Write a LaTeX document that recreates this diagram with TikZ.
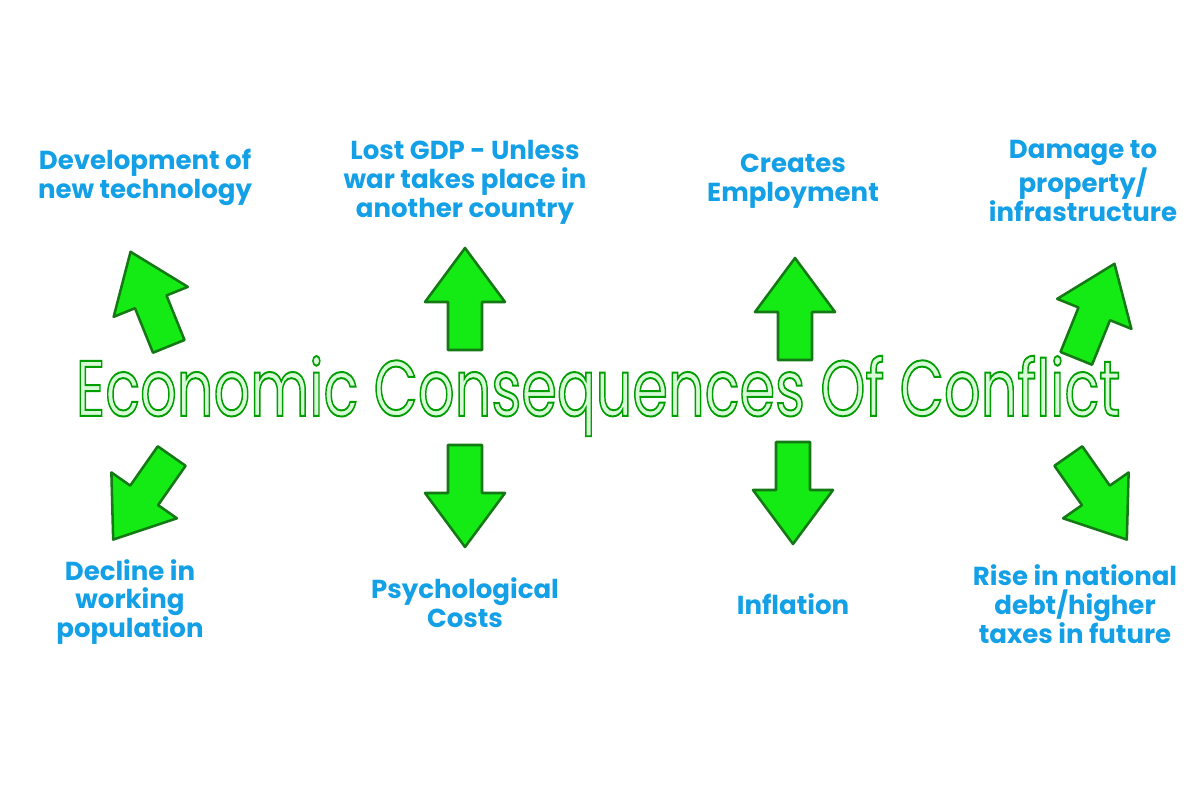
\documentclass[tikz,border=0pt]{standalone}
\usepackage{fontspec}
\setmainfont{Poppins}
\usepackage{graphicx}
\definecolor{lbl}{RGB}{20,160,230}
\definecolor{agreen}{RGB}{20,235,20}
\definecolor{dgreen}{RGB}{20,120,20}
\definecolor{pgreen}{RGB}{215,250,215}
\tikzset{
  lab/.style={text=lbl,font=\fontsize{18.5}{20.5}\selectfont\bfseries,align=center,inner sep=0},
  barrow/.style={fill=agreen,draw=dgreen,line width=1.8pt,line join=round},
}
\newcommand{\blockarrow}[3]{% center x,y, rotation (0 = up)
  \draw[barrow,shift={(#1,#2)},rotate=#3] (-17,50) -- (-17,2) -- (-40,2) -- (0,-52) -- (40,2) -- (17,2) -- (17,50) -- cycle;}
\begin{document}
\begin{tikzpicture}[x=0.025cm,y=-0.025cm]
\useasboundingbox (0,0) rectangle (1200,800);
\fill[white] (0,0) rectangle (1200,800);
\blockarrow{150}{300}{22}
\blockarrow{465}{300}{0}
\blockarrow{795}{310}{0}
\blockarrow{1095}{312}{-22}
\blockarrow{143}{497}{145}
\blockarrow{465}{495}{180}
\blockarrow{793}{492}{180}
\blockarrow{1097}{497}{-145}
\node[inner sep=0] (title) at (598,396) {\resizebox{26.1cm}{1.5cm}{\color{pgreen}\special{pdf:literal 0 0.62 0 RG 0.25 w 2 Tr}Economic Consequences Of Conflict\special{pdf:literal 0 Tr}}};
\node[lab] (t1) at (145,177) {Development of\\new technology};
\node[lab] (t2) at (465,182) {Lost GDP - Unless\\war takes place in\\another country};
\node[lab] (t3) at (793,181) {Creates\\Employment};
\node[lab] (t4) at (1083,181) {Damage to\\property/\\infrastructure};
\node[lab] (b1) at (130,602) {Decline in\\working\\population};
\node[lab] (b2) at (465,603) {Psychological\\Costs};
\node[lab] (b3) at (793,604) {Inflation};
\node[lab] (b4) at (1075,604) {Rise in national\\debt/higher\\taxes in future};
\end{tikzpicture}
\end{document}
